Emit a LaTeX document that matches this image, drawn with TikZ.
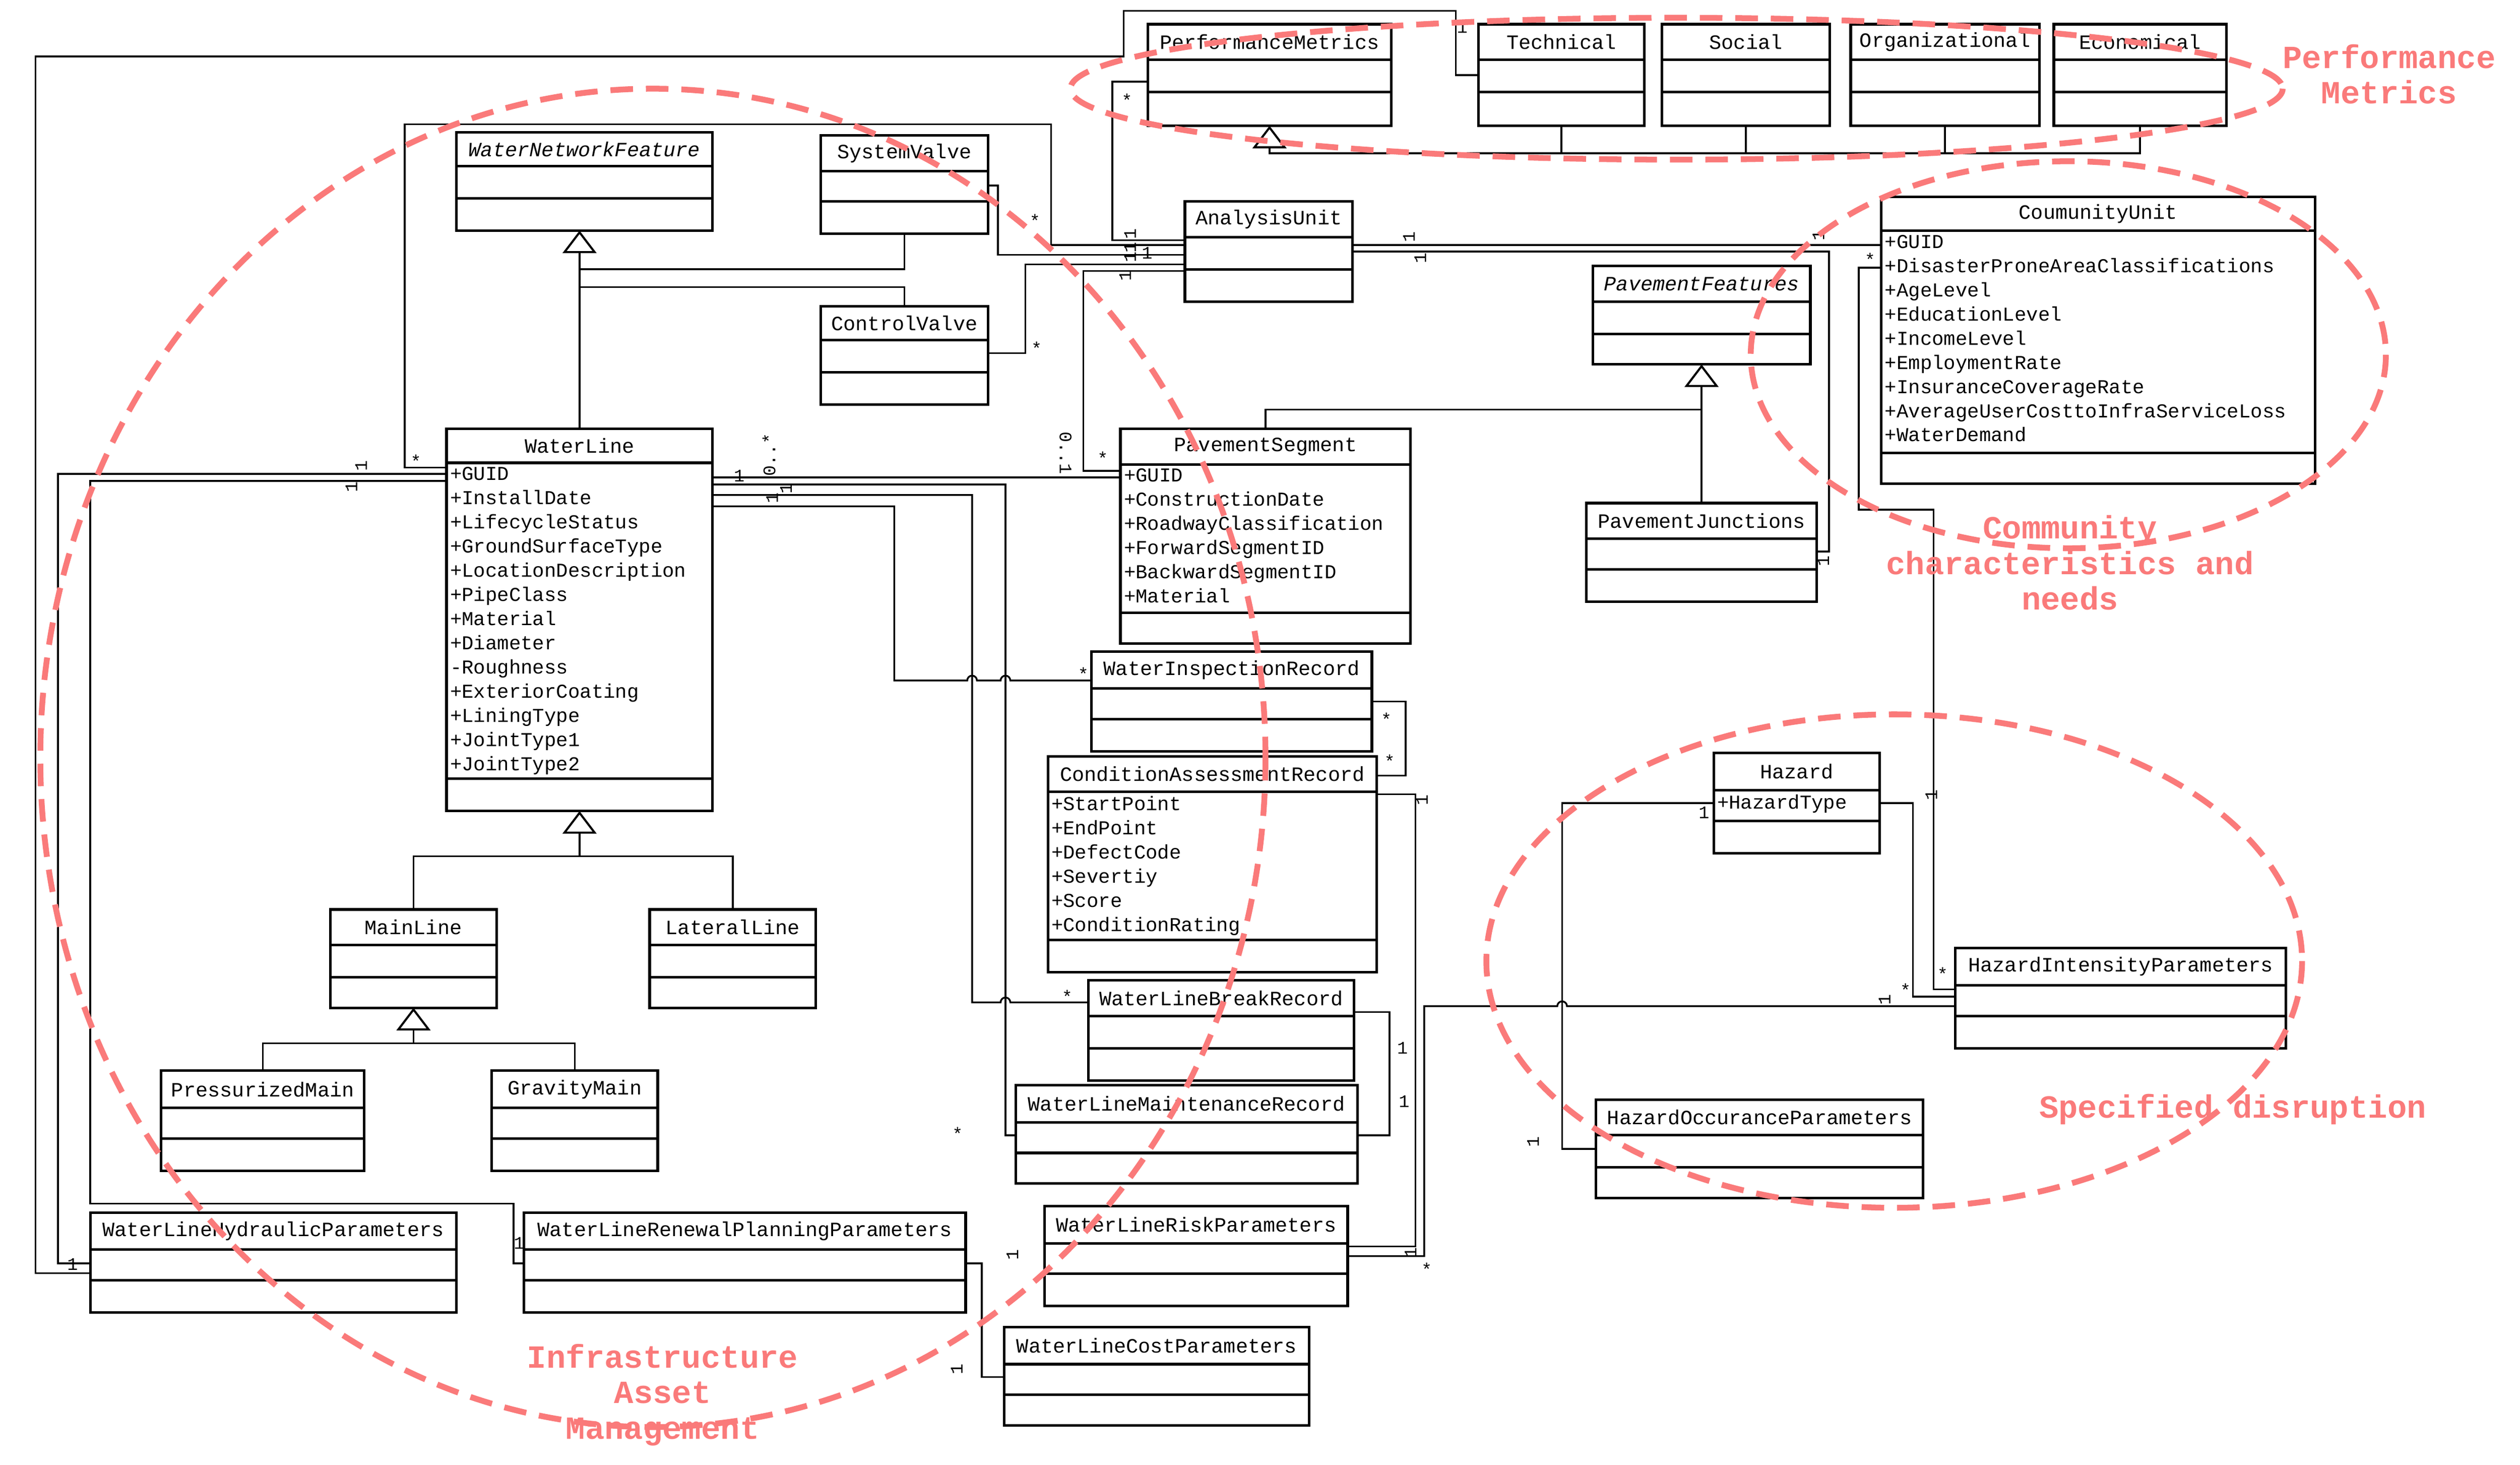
\documentclass[tikz,border=0pt]{standalone}
\usepackage{fontspec}
\usetikzlibrary{arrows.meta,calc}
\newfontfamily\bx{Liberation Mono}
\definecolor{hl}{RGB}{250,122,122}
\newcommand\umlc[8]{%
\pgfmathsetlengthmacro\cw{#4-#2}\pgfmathsetlengthmacro\ch{#5-#3}%
\node[box, minimum width=\cw, minimum height=\ch] (#1) at (#2,#3) {};
\draw[line width=1.6pt] (#2,#6) -- (#4,#6) (#2,#7) -- (#4,#7);
\node[title] (#1t) at ({(#2+#4)/2},{(#3+#6)/2}) {#8};}
\tikzset{
 box/.style={draw, line width=1.6pt, inner sep=0, outer sep=0, anchor=north west},
 title/.style={font=\bx\fontsize{12.6}{14}\selectfont, inner sep=0},
 attr/.style={font=\bx\fontsize{12.2}{15}\selectfont, align=left, inner sep=0, anchor=north west},
 mul/.style={font=\bx\fontsize{11}{11}\selectfont, inner sep=0},
 conn/.style={line width=1.1pt},
 inh/.style={line width=1.1pt, -{Triangle[open, width=21pt, length=14pt, line width=1.3pt]}},
 zone/.style={draw=hl, line width=3.6pt, dash pattern=on 14pt off 8pt},
 zlab/.style={text=hl, font=\bx\bfseries\fontsize{20}{22}\selectfont, align=center, inner sep=0},
}
\begin{document}
\begin{tikzpicture}[x=1pt,y=-1pt]
\useasboundingbox[fill=white] (0,0) rectangle (1563.2,908.3);
% classes
\umlc{PM}{712}{15}{863}{78}{37}{57}{PerformanceMetrics}
\umlc{Tech}{917}{15}{1020}{78}{37}{57}{Technical}
\umlc{Soc}{1031}{15}{1135}{78}{37}{57}{Social}
\umlc{Org}{1148}{15}{1265}{78}{37}{57}{Organizational}
\umlc{Eco}{1274}{15}{1381}{78}{37}{57}{Economical}
\umlc{WNF}{283}{82}{442}{143}{103}{123}{\itshape WaterNetworkFeature}
\umlc{SV}{509}{84}{613}{145}{106}{125}{SystemValve}
\umlc{CV}{509}{190}{613}{251}{211}{231}{ControlValve}
\umlc{AU}{735}{125}{839}{187}{147}{167}{AnalysisUnit}
\umlc{CU}{1167}{122}{1436}{300}{143}{281}{CoumunityUnit}
\umlc{PF}{988}{165}{1123}{226}{187}{207}{\itshape PavementFeatures}
\umlc{PJ}{984}{312}{1127}{373}{334}{353}{PavementJunctions}
\umlc{PS}{695}{266}{875}{399}{288}{380}{PavementSegment}
\umlc{WL}{277}{266}{442}{503}{287}{483}{WaterLine}
\umlc{WIR}{677}{404}{851}{466}{427}{446}{WaterInspectionRecord}
\umlc{CAR}{650}{469}{854}{603}{491}{583}{ConditionAssessmentRecord}
\umlc{ML}{205}{564}{308}{625}{586}{606}{MainLine}
\umlc{LL}{403}{564}{506}{625}{586}{606}{LateralLine}
\umlc{PrM}{100}{664}{226}{726}{687}{706}{PressurizedMain}
\umlc{GM}{305}{664}{408}{726}{687}{706}{GravityMain}
\umlc{WLHP}{56}{752}{283}{814}{775}{794}{WaterLineHydraulicParameters}
\umlc{WLRPP}{325}{752}{599}{814}{775}{794}{WaterLineRenewalPlanningParameters}
\umlc{Hz}{1063}{467}{1166}{529}{490}{509}{Hazard}
\umlc{HIP}{1213}{588}{1418}{650}{611}{630}{HazardIntensityParameters}
\umlc{HOP}{990}{682}{1193}{743}{704}{724}{HazardOccuranceParameters}
\umlc{WLBR}{675}{608}{840}{670}{630}{650}{WaterLineBreakRecord}
\umlc{WLMR}{630}{673}{842}{734}{696}{715}{WaterLineMaintenanceRecord}
\umlc{WLRK}{648}{748}{836}{810}{771}{790}{WaterLineRiskParameters}
\umlc{WLCP}{623}{823}{812}{884}{846}{865}{WaterLineCostParameters}
% attributes
\node[attr] (WLa) at (279,289.5) {+GUID\\+InstallDate\\+LifecycleStatus\\+GroundSurfaceType\\+LocationDescription\\+PipeClass\\+Material\\+Diameter\\-Roughness\\+ExteriorCoating\\+LiningType\\+JointType1\\+JointType2};
\node[attr] (PSa) at (697,290.5) {+GUID\\+ConstructionDate\\+RoadwayClassification\\+ForwardSegmentID\\+BackwardSegmentID\\+Material};
\node[attr] (CARa) at (652,493.5) {+StartPoint\\+EndPoint\\+DefectCode\\+Severtiy\\+Score\\+ConditionRating};
\node[attr] (CUa) at (1169,145.5) {+GUID\\+DisasterProneAreaClassifications\\+AgeLevel\\+EducationLevel\\+IncomeLevel\\+EmploymentRate\\+InsuranceCoverageRate\\+AverageUserCosttoInfraServiceLoss\\+WaterDemand};
\node[attr] (Hza) at (1065,492.5) {+HazardType};
% inheritance
\draw[conn] (Tech.south) -- (Tech.south |- 0,95) (Soc.south) -- (Soc.south |- 0,95) (Org.south) -- (Org.south |- 0,95);
\draw[inh] (Eco.south) |- (PM.south |- 0,95) -- (PM.south);
\draw[inh] (WL.north) -- (WL.north |- WNF.south);
\draw[conn] (SV.south) |- (WL.north |- 0,167);
\draw[conn] (CV.north) |- (WL.north |- 0,178);
\draw[inh] (ML.north) |- (WL.south |- 0,531) -- (WL.south);
\draw[conn] (LL.north) |- (WL.south |- 0,531);
\draw[inh] (PrM.north) |- (ML.south |- 0,647) -- (ML.south);
\draw[conn] (GM.north) |- (ML.south |- 0,647);
\draw[inh] (PJ.north) -- (PJ.north |- PF.south);
\draw[conn] (PS.north) |- (PJ.north |- 0,254);
% associations
\draw[conn] (Tech.west |- 0,46.5) -- (903,46.5) -- (903,6.7) -- (697,6.7) -- (697,35) -- (22,35) -- (22,789.5) -- (WLHP.west |- 0,789.5);
\draw[conn] (PM.west |- 0,50.6) -- (690,50.6) -- (690,149) -- (AU.west |- 0,149);
\draw[conn] (WL.west |- 0,290) -- (251,290) -- (251,77) -- (652,77) -- (652,152) -- (AU.west |- 0,152);
\draw[conn] (SV.east |- 0,115) -- (619,115) -- (619,158) -- (AU.west |- 0,158);
\draw[conn] (CV.east |- 0,219) -- (636,219) -- (636,164) -- (AU.west |- 0,164);
\draw[conn] (AU.west |- 0,168) -- (672,168) -- (672,292) -- (PS.west |- 0,292);
\draw[conn] (AU.east |- 0,152) -- (CU.west |- 0,152);
\draw[conn] (AU.east |- 0,156) -- (1134.6,156) -- (1134.6,342) -- (PJ.east |- 0,342);
\draw[conn] (CU.west |- 0,166) -- (1153,166) -- (1153,316) -- (1199.5,316) -- (1199.5,613.6) -- (HIP.west |- 0,613.6);
\draw[conn] (Hz.east |- 0,498) -- (1186.6,498) -- (1186.6,618) -- (HIP.west |- 0,618);
\draw[conn] (Hz.west |- 0,498) -- (969,498) -- (969,712.5) -- (HOP.west |- 0,712.5);
\draw[conn] (HIP.west |- 0,624) -- (972,624) arc[start angle=0,end angle=-180,radius=3] -- (883.5,624) -- (883.5,779) -- (WLRK.east |- 0,779);
\draw[conn] (CAR.east |- 0,492.6) -- (878,492.6) -- (878,773) -- (WLRK.east |- 0,773);
\draw[conn] (WIR.east |- 0,435) -- (872,435) -- (872,481) -- (CAR.east |- 0,481);
\draw[conn] (WLBR.east |- 0,627.6) -- (862,627.6) -- (862,704) -- (WLMR.east |- 0,704);
\draw[conn] (WL.east |- 0,296) -- (PS.west |- 0,296);
\draw[conn] (WL.east |- 0,300.5) -- (623.7,300.5) -- (623.7,704) -- (WLMR.west |- 0,704);
\draw[conn] (WL.east |- 0,307) -- (603,307) -- (603,621.6) -- (620.7,621.6) arc[start angle=180,end angle=360,radius=3] -- (WLBR.west |- 0,621.6);
\draw[conn] (WL.east |- 0,314) -- (554.7,314) -- (554.7,422) -- (600,422) arc[start angle=180,end angle=360,radius=3] -- (620.7,422) arc[start angle=180,end angle=360,radius=3] -- (WIR.west |- 0,422);
\draw[conn] (WL.west |- 0,293.8) -- (36,293.8) -- (36,783.5) -- (WLHP.west |- 0,783.5);
\draw[conn] (WL.west |- 0,298.3) -- (56,298.3) -- (56,746.4) -- (318.6,746.4) -- (318.6,783.5) -- (WLRPP.west |- 0,783.5);
\draw[conn] (WLRPP.east |- 0,783.5) -- (609,783.5) -- (609,854) -- (WLCP.west |- 0,854);
% multiplicities
\node[mul] (m1) at (907,17) {1};
\node[mul] (m2) at (699,62) {*};
\node[mul,rotate=90] (m3) at (701,145) {1};
\node[mul,rotate=90] (m4) at (701,153.5) {1};
\node[mul,rotate=90] (m5) at (701,159.5) {1};
\node[mul] (m6) at (711.5,157) {1};
\node[mul,rotate=90] (m7) at (698,171) {1};
\node[mul] (m8) at (642,137) {*};
\node[mul] (m9) at (643,216) {*};
\node[mul] (m10) at (684,284) {*};
\node[mul,rotate=-90] (m11) at (661,281) {0..1};
\node[mul,rotate=90] (m12) at (874,147) {1};
\node[mul,rotate=90] (m13) at (881,160) {1};
\node[mul,rotate=90] (m14) at (1128,146) {1};
\node[mul,rotate=90] (m15) at (1131,348) {1};
\node[mul] (m16) at (1160,161) {*};
\node[mul] (m17) at (1205,604) {*};
\node[mul,rotate=90] (m18) at (1198,493) {1};
\node[mul] (m19) at (1182,614) {*};
\node[mul,rotate=90] (m20) at (1169,620) {1};
\node[mul] (m21) at (1057,504) {1};
\node[mul,rotate=90] (m22) at (951,708) {1};
\node[mul] (m23) at (885,787) {*};
\node[mul,rotate=90] (m24) at (875,777) {1};
\node[mul,rotate=90] (m25) at (882,496) {1};
\node[mul] (m26) at (860,446) {*};
\node[mul] (m27) at (862,472) {*};
\node[mul] (m28) at (870,650) {1};
\node[mul] (m29) at (871,683) {1};
\node[mul] (m30) at (458.5,295) {1};
\node[mul,rotate=90] (m31) at (477,282) {0..*};
\node[mul,rotate=90] (m32) at (487.6,303) {1};
\node[mul,rotate=90] (m33) at (479,309) {1};
\node[mul] (m34) at (594,703) {*};
\node[mul] (m35) at (662,618) {*};
\node[mul] (m36) at (672,418) {*};
\node[mul] (m37) at (258,286) {*};
\node[mul,rotate=90] (m38) at (224,289) {1};
\node[mul,rotate=90] (m39) at (218,302) {1};
\node[mul] (m40) at (45,784) {1};
\node[mul] (m41) at (322,771) {1};
\node[mul,rotate=90] (m42) at (628,778) {1};
\node[mul,rotate=90] (m43) at (593.5,849) {1};
% zones
\draw[zone] (1040,55) ellipse [x radius=376, y radius=44];
\draw[zone] (1283,220) ellipse [x radius=197, y radius=120];
\draw[zone] (1175,596) ellipse [x radius=253, y radius=153];
\draw[zone] (405,470) ellipse [x radius=380, y radius=415];
\node[zlab] (z1) at (1482,46) {Performance\\Metrics};
\node[zlab] (z2) at (1284,349) {Community\\characteristics and\\needs};
\node[zlab] (z3) at (1385,688) {Specified disruption};
\node[zlab] (z4) at (411,865) {Infrastructure\\Asset\\Management};
\end{tikzpicture}
\end{document}
